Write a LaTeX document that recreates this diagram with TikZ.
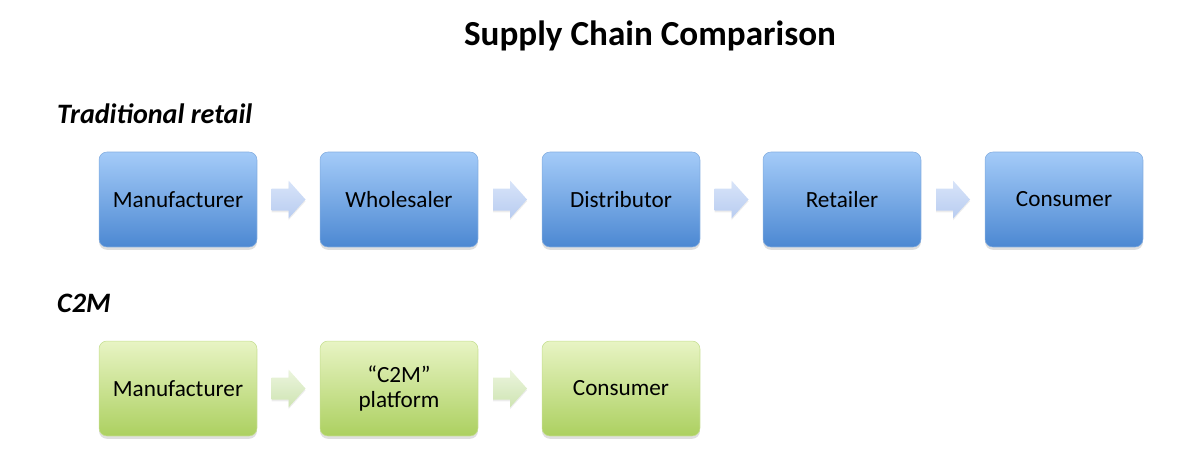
\documentclass[tikz,border=0pt]{standalone}
\usepackage{fontspec}
\setmainfont{Carlito}
\usetikzlibrary{shadows, calc}

\definecolor{bluetop}{RGB}{164,203,248}
\definecolor{bluebot}{RGB}{76,136,210}
\definecolor{greentop}{RGB}{232,244,196}
\definecolor{greenbot}{RGB}{172,208,96}
\definecolor{blueflowtop}{RGB}{216,228,249}
\definecolor{blueflowbot}{RGB}{184,204,240}
\definecolor{greenflowtop}{RGB}{236,245,222}
\definecolor{greenflowbot}{RGB}{206,228,178}

\begin{document}
\begin{tikzpicture}[x=0.02cm, y=-0.02cm,
    % Styles
    stage/.style={rounded corners=4.5pt, minimum width=3.16cm, minimum height=1.9cm, align=center, inner sep=2pt, font=\fontsize{13.2}{14.4}\selectfont, drop shadow={shadow xshift=0pt, shadow yshift=-1.6pt, opacity=0.25}},
    retail/.style={stage, top color=bluetop, bottom color=bluebot, draw=bluebot!70!white, line width=0.3pt},
    direct/.style={stage, top color=greentop, bottom color=greenbot, draw=greenbot!70!white, line width=0.3pt},
    flow/.style={drop shadow={shadow xshift=0pt, shadow yshift=-1pt, opacity=0.15}},
    blueflow/.style={flow, top color=blueflowtop, bottom color=blueflowbot},
    greenflow/.style={flow, top color=greenflowtop, bottom color=greenflowbot},
    heading/.style={anchor=base west, font=\fontsize{16}{18}\selectfont\bfseries\itshape},
]
\useasboundingbox (0,0) rectangle (1200,463);

% Title
\node[anchor=base, font=\fontsize{20}{24}\selectfont\bfseries] (title) at (650,45) {Supply Chain Comparison};

% Traditional retail
\node[heading] (tradlabel) at (51,123) {Traditional retail};

\node[retail] (tmanu) at (178,199.5) {Manufacturer};
\node[retail] (twhole) at (399,199.5) {Wholesaler};
\node[retail] (tdist) at (621,199.5) {Distributor};
\node[retail] (tret) at (842,199.5) {Retailer};
\node[retail] (tcons) at (1064,199.5) {Consumer};

% block arrows between the boxes
\foreach \from/\to in {tmanu/twhole, twhole/tdist, tdist/tret, tret/tcons}
  \path[blueflow, shift={($(\from.east)!0.5!(\to.west)$)}]
    (-17,-11) -- (0,-11) -- (0,-19) -- (17,0) -- (0,19) -- (0,11) -- (-17,11) -- cycle;

% C2M
\node[heading] (c2mlabel) at (51,312) {C2M};

\node[direct] (cmanu) at (178,388.5) {Manufacturer};
\node[direct] (cplat) at (399,388.5) {``C2M''\\platform};
\node[direct] (ccons) at (621,388.5) {Consumer};

\foreach \from/\to in {cmanu/cplat, cplat/ccons}
  \path[greenflow, shift={($(\from.east)!0.5!(\to.west)$)}]
    (-17,-11) -- (0,-11) -- (0,-19) -- (17,0) -- (0,19) -- (0,11) -- (-17,11) -- cycle;

\end{tikzpicture}
\end{document}
